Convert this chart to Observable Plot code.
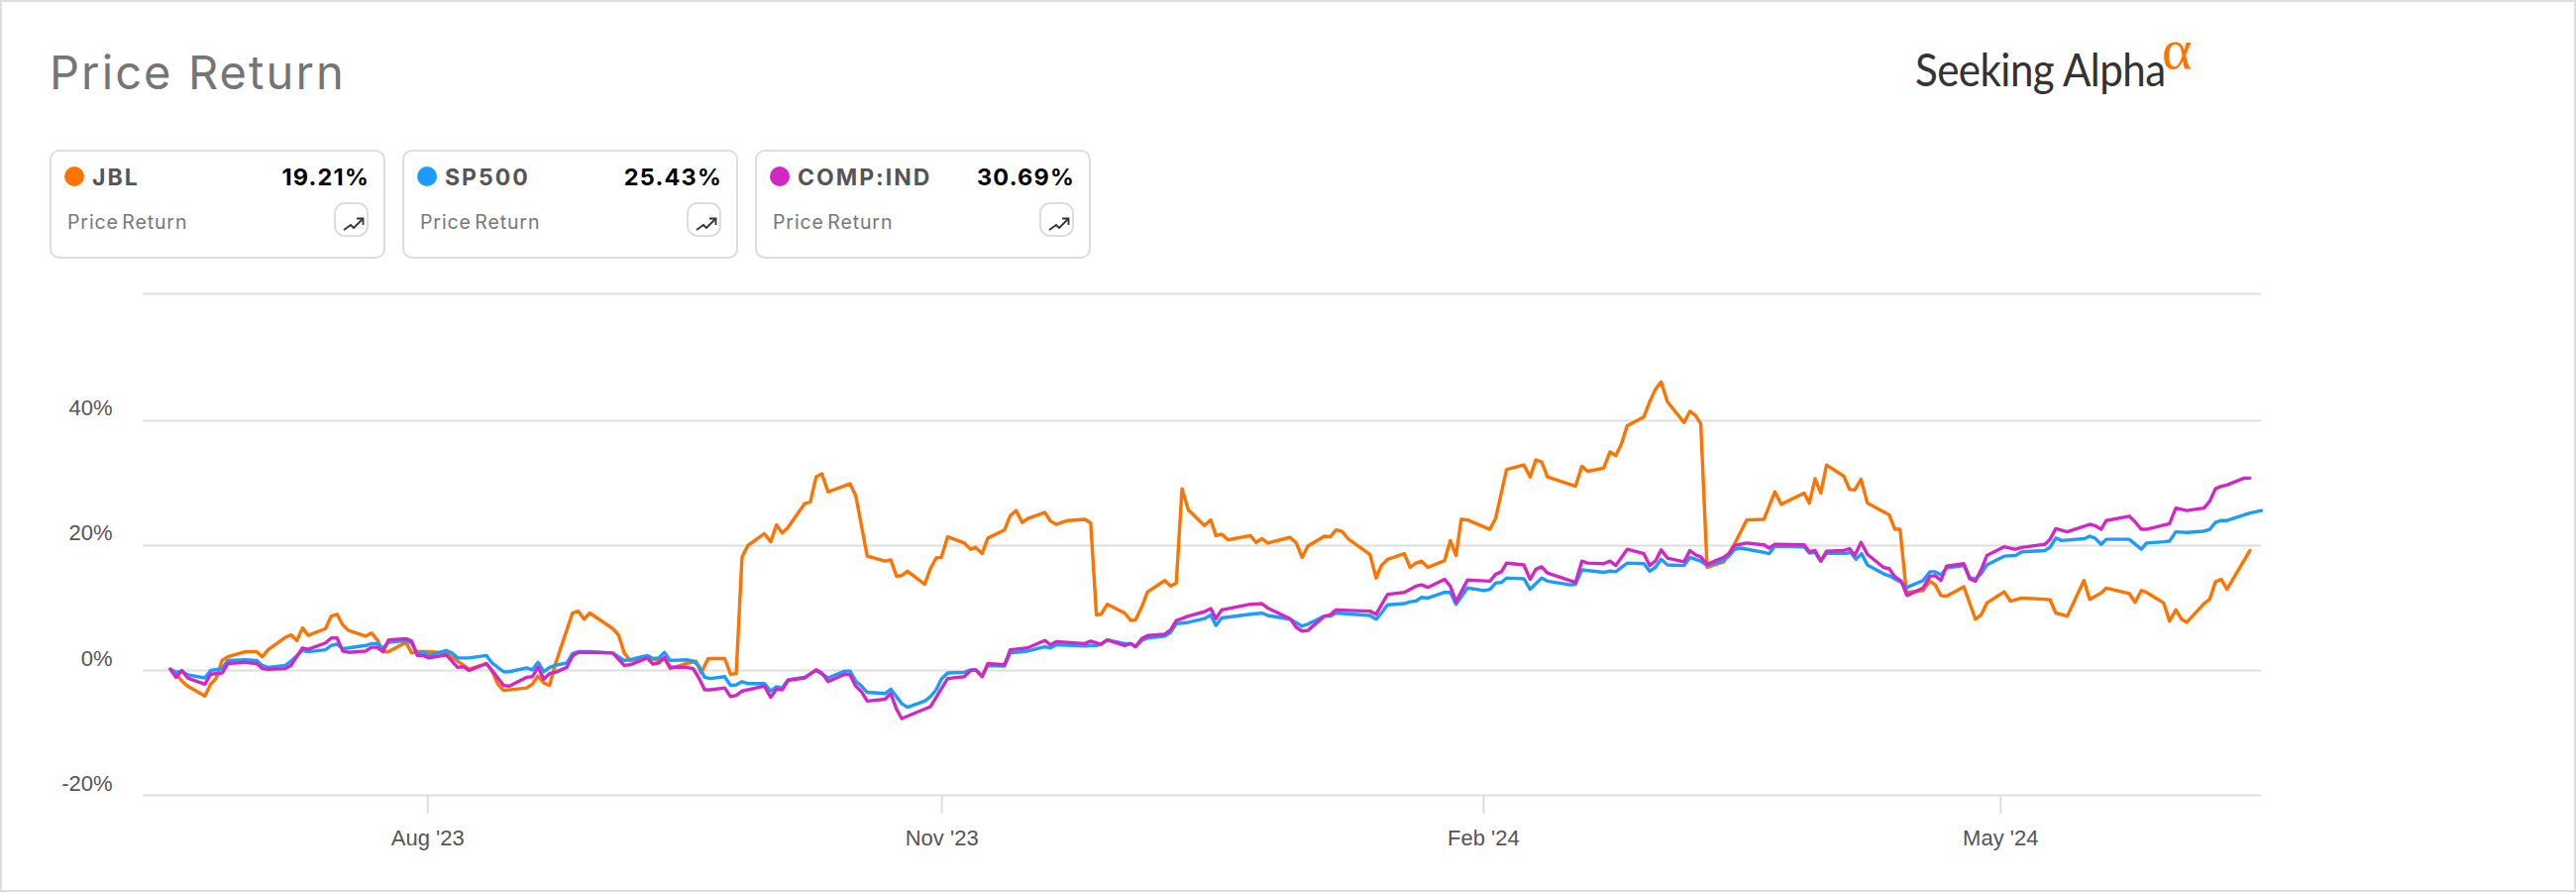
<!DOCTYPE html>
<html>
<head>
<meta charset="utf-8">
<script src="https://cdn.jsdelivr.net/npm/d3@7"></script>
<script src="https://cdn.jsdelivr.net/npm/@observablehq/plot@0.6"></script>
<style>
html,body{margin:0;padding:0;background:#fff;}
body{width:2600px;height:900px;position:relative;overflow:hidden;font-family:Inter,sans-serif;}
#frame{position:absolute;left:0;top:0;width:2600px;height:900px;box-sizing:border-box;border:2px solid #ddd;pointer-events:none;}
#chart{position:absolute;left:0;top:0;}
#chart svg{display:block;max-width:none;}
#title{position:absolute;left:50px;top:45px;font-size:47px;line-height:56px;color:#757575;letter-spacing:2.1px;font-weight:400;white-space:nowrap;}
#logo{position:absolute;left:1933px;top:44px;font-family:Lato,sans-serif;font-size:46px;line-height:52px;color:#333;letter-spacing:-0.6px;white-space:nowrap;transform:scaleX(0.915);transform-origin:left center;}
#alpha{position:absolute;left:2182px;top:20px;font-family:"Liberation Serif",serif;font-size:58px;line-height:60px;color:#ff7300;white-space:nowrap;}
.card{position:absolute;top:151px;width:339px;height:110px;box-sizing:border-box;border:2px solid #ddd;border-radius:10px;background:#fff;}
.dot{position:absolute;left:13px;top:15px;width:20px;height:20px;border-radius:50%;}
.name{position:absolute;left:41px;top:11px;font-size:23px;line-height:30px;font-weight:700;color:#555;letter-spacing:2px;white-space:nowrap;}
.val{position:absolute;right:14px;top:11px;font-size:23.5px;line-height:30px;font-weight:700;color:#000;letter-spacing:1.2px;white-space:nowrap;}
.sub{position:absolute;left:16px;top:58px;font-size:19.5px;line-height:26px;color:#777;letter-spacing:0.9px;word-spacing:-3px;white-space:nowrap;}
.btn{position:absolute;left:285px;top:51px;width:35px;height:35px;box-sizing:border-box;border:2px solid #ddd;border-radius:11px;}
.btn svg{position:absolute;left:-2px;top:-2px;}
</style>
</head>
<body>
<div id="chart"></div>
<div id="title"></div>
<div id="logo"></div>
<div id="alpha"></div>
<div id="cards"></div>
<div id="frame"></div>
<script>
const chartTitle = "Price Return";
const logoText = "Seeking Alpha";
const logoMark = "α";
const seriesNames = ["JBL", "SP500", "COMP:IND"];
const seriesTotals = ["19.21%", "25.43%", "30.69%"];
const seriesSub = "Price Return";
const seriesColors = ["#ff7300", "#1e9bff", "#d327c4"];

// Tick positions in days since the start of the window
const xTickDays = [44.8, 134.3, 228.6, 318.6];
const xTickLabels = ["Aug '23", "Nov '23", "Feb '24", "May '24"];
const yTicks = [-20, 0, 20, 40];
const yTop = 60.3;

// [day, % return]
const jbl = [[0,0.2],[1,-0.6],[2,-1.7],[3,-2.5],[6,-4.1],[7,-2.2],[8,-1.2],[9,1.6],[10,2.2],[13,3.0],[15,3.0],[16,2.2],[17,3.3],[20,5.3],[21,5.7],[22,4.8],[23,6.8],[24,5.6],[27,6.7],[28,8.7],[29,9.0],[30,7.3],[31,6.4],[34,5.5],[35,6.0],[36,4.9],[37,3.0],[38,3.0],[41,4.5],[42,2.8],[43,3.0],[45,3.0],[48,2.8],[50,1.5],[52,0.2],[55,1.1],[56,-0.1],[57,-2.2],[58,-3.2],[62,-2.8],[63,-2.2],[64,-0.9],[65,-2.0],[66,-2.4],[67,1.0],[70,9.2],[71,9.5],[72,8.2],[73,9.2],[77,6.7],[78,5.7],[79,2.8],[80,1.6],[83,2.1],[85,1.6],[86,2.0],[87,0.3],[89.5,1.0],[91.5,1.5],[92.4,-0.4],[93.6,1.9],[96.5,1.9],[97.5,-0.6],[98.5,-0.5],[99.5,18.1],[100.5,20.0],[103.4,21.9],[104.5,20.6],[105.5,23.3],[106.5,22.0],[107.5,22.9],[110.4,26.7],[111.4,27.0],[112.4,31.0],[113.4,31.5],[114.5,28.6],[118.3,29.9],[119.3,28.0],[121.3,18.3],[124.4,17.5],[125.4,17.7],[126.4,15.1],[127.3,15.2],[128.3,15.9],[131.3,13.8],[132.3,16.3],[133.3,18.0],[134.2,18.1],[135.3,21.4],[138.2,20.4],[139.3,19.4],[140.2,19.7],[141.3,18.7],[142.3,21.2],[145.2,22.5],[146.2,24.8],[147.2,25.6],[148.3,23.7],[149.2,24.3],[152.2,25.3],[153.2,23.9],[154.2,23.4],[156.2,24.0],[159.2,24.2],[160.2,23.6],[161.2,8.9],[162,9.0],[163.1,10.6],[166.1,9.2],[167.2,8.0],[168,8.1],[169.1,10.2],[170.1,12.6],[173.1,14.4],[174.1,13.5],[175.1,14.0],[176.1,29.1],[177.2,25.7],[180,23.2],[181.1,24.1],[182,21.6],[183,21.8],[184.1,20.9],[188,21.6],[189,20.5],[190,21.1],[191,20.4],[194.9,21.3],[196,20.4],[197,18.1],[198,19.9],[200.9,21.5],[201.9,21.4],[202.9,22.5],[203.9,22.3],[205,21.1],[208.8,18.6],[209.9,14.8],[210.8,16.8],[211.9,17.8],[214.8,18.7],[215.8,16.5],[216.8,17.2],[217.8,17.5],[218.9,16.5],[221.8,17.6],[222.8,20.8],[223.8,18.4],[224.7,24.2],[225.8,24.1],[229.7,22.6],[230.7,24.4],[232.6,32.2],[235.6,32.9],[236.7,31.0],[237.7,33.7],[238.7,33.4],[239.7,31.0],[244.6,29.5],[245.7,32.7],[246.7,31.9],[249.5,32.4],[250.6,35.0],[251.6,34.4],[252.6,36.3],[253.6,39.2],[256.5,40.6],[257.5,43.0],[258.5,45.0],[259.5,46.2],[260.6,43.0],[263.5,39.7],[264.5,41.5],[265.5,40.8],[266.4,39.5],[267.5,16.5],[270.4,17.4],[271.4,18.9],[272.3,20.3],[274.4,24.1],[277.4,24.2],[279.3,28.6],[280.4,26.6],[284.4,28.4],[285.3,26.8],[286.3,30.7],[287.3,28.4],[288.3,32.9],[291.3,31.1],[292.3,29.0],[293.2,28.9],[294.3,30.6],[295.4,26.8],[299.2,24.9],[300.2,22.6],[301.1,22.6],[302.2,12.5],[305.1,12.8],[306.3,14.3],[307.2,13.7],[308.2,12.0],[309.2,11.9],[312.2,13.4],[314.2,8.2],[315.2,8.9],[316.2,10.8],[319.2,12.6],[320.3,11.1],[322.3,11.6],[326.3,11.4],[327.2,11.3],[328.2,9.2],[330.2,8.7],[333.1,14.4],[334.1,11.4],[336.1,12.4],[337,13.2],[341,12.3],[342,10.9],[343.1,12.8],[344,12.5],[347,10.8],[348,7.9],[349.1,9.7],[350.1,8.2],[351,7.7],[354,10.7],[355,11.4],[356,14.2],[357,14.6],[358,13.0],[362,19.2]];

const sp500 = [[0,0.2],[1,-0.3],[2,-0.1],[3,-0.7],[6,-1.2],[7,0],[9,0.3],[10,1.6],[13,1.7],[15,1.6],[16,0.8],[17,0.5],[20,0.8],[21,1.5],[23,3.2],[24,3.0],[27,3.3],[28,4.0],[29,4.2],[30,3.5],[31,3.6],[34,4.0],[35,4.3],[36,4.3],[37,3.6],[38,4.5],[41,4.8],[42,4.4],[43,2.6],[44,3.0],[45,2.4],[48,3.2],[49,2.8],[50,2.0],[52,2.0],[55,2.4],[56,1.2],[58,-0.2],[59,-0.2],[62,0.4],[63,0.1],[64,1.3],[65,-0.2],[66,0.5],[67,0.8],[69,1.2],[70,2.7],[71,3.0],[73,3.0],[77,2.8],[79,1.6],[80,1.7],[83,2.4],[84,1.9],[85,2.0],[86,2.9],[87,1.6],[89.8,1.7],[91,1.5],[92,0.7],[93,-1.1],[94,-1.3],[96.5,-1.0],[97.5,-2.4],[98.5,-2.3],[99.5,-1.8],[100.5,-2.1],[103.4,-2.1],[104.5,-3.3],[105.5,-2.6],[106.5,-2.8],[107.5,-1.5],[110.4,-1.1],[112.4,0],[114.5,-1.2],[117.4,-0.1],[118.3,-0.1],[119.3,-1.7],[120.3,-2.5],[121.3,-3.5],[124.4,-3.7],[125.4,-3.0],[127.3,-5.3],[128.3,-5.9],[131.3,-4.9],[132.3,-4.2],[133.3,-3.1],[134.2,-1.4],[135.3,-0.4],[138.2,-0.3],[139.3,0.1],[140.2,0.1],[141.3,-0.9],[142.3,0.8],[145.2,0.7],[146.2,2.8],[149.2,3.1],[152.2,3.8],[153.2,3.6],[154.2,4.1],[159.2,3.9],[160.2,4.0],[161.2,4.0],[162,4.2],[163.1,4.9],[166.1,4.3],[167.2,4.3],[168,3.8],[169.1,4.8],[170.1,5.2],[173.1,5.5],[174.1,6.1],[175.1,7.5],[177.2,7.7],[180,8.3],[181.1,8.9],[182,7.2],[183,8.4],[188,9.0],[190,9.2],[191,8.8],[194.9,8.2],[196,7.6],[197,7.1],[198,7.4],[200.9,8.7],[201.9,8.7],[202.9,9.2],[208.8,8.8],[209.9,8.2],[210.8,9.2],[211.9,10.5],[214.8,10.7],[215.8,11.0],[216.8,11.1],[217.8,11.7],[218.9,11.6],[221.8,12.5],[222.8,12.5],[223.8,10.6],[225.8,13.2],[228.7,12.8],[229.7,13.0],[230.7,14.0],[231.7,14.1],[232.6,14.8],[235.6,14.7],[236.7,13.0],[238.7,14.8],[239.7,14.3],[243.7,13.7],[244.6,13.8],[245.7,16.1],[249.5,15.7],[250.6,15.9],[251.6,15.8],[253.6,17.2],[256.5,17.1],[257.5,15.9],[258.5,16.5],[259.5,17.8],[260.6,16.9],[263.5,16.8],[264.5,18.1],[266.4,17.5],[267.5,16.8],[270.4,17.6],[271.4,18.4],[272.3,19.4],[273.3,19.6],[277.4,18.9],[278.3,18.7],[279.3,19.9],[284.4,19.8],[285.3,18.8],[286.3,18.9],[287.3,17.5],[288.3,18.8],[291.5,18.7],[292.5,18.9],[293.4,17.8],[294.4,18.7],[295.4,16.9],[298.4,15.4],[299.4,15.1],[300.3,14.6],[301.3,14.1],[302.3,13.3],[305.1,14.4],[306.3,15.8],[307.2,15.8],[308.2,15.3],[309.2,16.4],[312.2,16.8],[313.2,14.9],[314.2,14.6],[315.2,15.5],[316.2,16.9],[319.2,18.3],[321.2,18.4],[322.3,19.0],[326.3,19.2],[327.2,19.7],[328.2,21.2],[329.2,20.8],[333.2,21.1],[334.1,21.5],[335,21.2],[336.1,20.2],[337,21.0],[341,21.0],[343.1,19.4],[344,20.4],[347,20.6],[348,20.7],[349.1,22.2],[351,22.1],[354,22.3],[355,22.6],[356,23.7],[357,24.0],[358,24.0],[362,25.2],[364,25.6]];

const compInd = [[0,0.2],[1,-1.1],[2,0],[3,-1.2],[6,-2.2],[7,-0.6],[9,-0.4],[10,1.1],[13,1.3],[15,1.1],[16,0.3],[17,0.2],[20,0.3],[21,0.8],[23,3.6],[24,3.4],[27,4.4],[28,5.2],[29,5.2],[30,3.1],[31,2.9],[34,3.1],[35,3.7],[36,3.7],[37,3.0],[38,4.9],[41,5.1],[42,4.7],[43,2.4],[44,2.4],[45,2.0],[48,2.5],[50,0.5],[51,0.6],[52,0],[55,1.1],[56,0],[58,-2.4],[59,-2.5],[62,-1.1],[63,-1.0],[64,0.5],[65,-1.4],[66,-0.5],[67,-0.3],[69,0.5],[70,2.3],[71,2.9],[73,2.9],[77,2.8],[79,0.8],[80,0.9],[83,2.0],[84,1.0],[85,1.2],[86,2.1],[87,0.5],[89.8,0.5],[91,0.3],[92,-1.2],[93,-3.1],[94,-3.1],[96.5,-2.8],[97.5,-4.2],[98.5,-4.0],[99.5,-3.3],[103.4,-2.5],[104.5,-4.3],[105.5,-3.0],[106.5,-3.1],[107.5,-1.6],[110.4,-1.2],[112.4,0.1],[113.4,-0.4],[114.5,-1.8],[117.4,-0.6],[118.3,-0.7],[119.3,-2.5],[120.3,-3.4],[121.3,-4.9],[124.4,-4.6],[125.4,-3.7],[126.4,-6.2],[127.3,-7.7],[132.3,-5.8],[133.3,-4.3],[135.3,-1.3],[138.2,-1.0],[139.3,0],[140.2,0.1],[141.3,-1.0],[142.3,1.1],[145.2,0.9],[146.2,3.3],[149.2,3.6],[152.2,4.8],[153.2,4.1],[154.2,4.6],[159.2,4.3],[160.2,4.7],[162,4.2],[163.1,4.9],[166.1,4.0],[167.2,4.3],[168,3.8],[169.1,5.1],[170.1,5.6],[173.1,5.8],[174.1,6.5],[175.1,8.0],[176.1,8.3],[177.2,8.7],[180,9.4],[181.1,9.9],[182,8.3],[183,9.7],[188,10.6],[190,10.7],[191,10.0],[194.9,8.3],[196,6.9],[197,6.3],[198,6.4],[200.9,8.7],[201.9,8.9],[202.9,9.7],[208.8,9.5],[209.9,9.0],[210.8,10.5],[211.9,12.2],[214.8,12.5],[216.8,13.5],[217.8,13.7],[218.9,13.3],[221.8,14.6],[222.8,13.5],[223.8,11.0],[225.8,14.5],[229.7,14.3],[230.7,15.4],[231.7,15.8],[232.6,17.2],[235.6,16.9],[236.7,14.6],[237.7,16.2],[238.7,16.6],[239.7,15.6],[244.6,14.1],[245.7,17.5],[246.7,17.2],[249.5,17.1],[250.6,17.5],[251.6,16.8],[253.6,19.4],[256.5,18.7],[257.5,16.8],[258.5,17.5],[259.5,19.3],[260.6,18.0],[263.5,17.4],[264.5,19.2],[265.5,18.5],[266.4,18.2],[267.5,17.0],[270.4,18.1],[271.4,18.8],[272.3,20.0],[274.4,20.4],[277.4,20.1],[278.3,19.6],[279.3,20.2],[284.4,20.1],[285.3,19.0],[286.3,19.2],[287.3,17.5],[288.3,19.1],[291.3,19.2],[292.3,19.5],[293.2,18.4],[294.3,20.5],[295.4,18.6],[298.2,16.5],[299.2,16.3],[300.2,15.0],[301.3,14.3],[302.3,12.0],[305.1,13.2],[306.3,15.1],[307.2,15.2],[308.2,14.4],[309.2,16.7],[312.2,17.1],[313.2,14.7],[314.2,14.3],[315.2,16.1],[316.2,18.4],[319.2,19.8],[321.2,19.4],[322.3,19.7],[326.3,20.2],[327.2,21.0],[328.2,22.7],[330.2,22.2],[334.1,23.4],[335,23.2],[336.1,22.6],[337,24.0],[341,24.7],[342,23.8],[343.1,22.6],[344,22.6],[348,23.5],[349.1,26.0],[351,25.6],[354,26.0],[355,27.1],[356,29.1],[357,29.5],[358,29.7],[361,30.8],[362,30.8]];

const grey = "#dedede", textGrey = "#555";
const lineOf = (pts, color) => Plot.line(pts, {x: d => d[0], y: d => d[1], stroke: color, strokeWidth: 3.4, strokeLinejoin: "round", strokeLinecap: "round"});
const labelAt = new Map(xTickDays.map((d, i) => [d, xTickLabels[i]]));

const plot = Plot.plot({
  width: 2600, height: 900,
  marginLeft: 144, marginRight: 318, marginTop: 296, marginBottom: 98,
  style: {fontFamily: '"Liberation Sans", sans-serif', background: "transparent"},
  x: {domain: [-4.74, 364], axis: null},
  y: {domain: [-20, yTop], axis: null},
  marks: [
    Plot.ruleY([...yTicks, yTop], {stroke: grey, strokeWidth: 2}),
    Plot.axisX(xTickDays, {anchor: "bottom", tickSize: 19, tickPadding: 16, stroke: grey, strokeWidth: 2, strokeOpacity: 1, fill: textGrey, fontSize: 22, tickFormat: d => labelAt.get(d), label: null}),
    Plot.axisY(yTicks, {anchor: "left", tickSize: 0, tickPadding: 31, fill: textGrey, fontSize: 22, dy: -12, tickFormat: d => d + "%", label: null}),
    lineOf(jbl, seriesColors[0]),
    lineOf(sp500, seriesColors[1]),
    lineOf(compInd, seriesColors[2])
  ]
});
document.getElementById("chart").appendChild(plot);

document.getElementById("title").textContent = chartTitle;
document.getElementById("logo").textContent = logoText;
document.getElementById("alpha").textContent = logoMark;

const icon = '<svg width="35" height="35" viewBox="0 0 35 35" fill="none" stroke="#333" stroke-width="1.8"><path d="M10 28l7-5 3 3 9-9"/><path d="M23 16.5h6.5v6.5"/></svg>';
const cardLeft = [50, 406, 762];
const cards = document.getElementById("cards");
seriesNames.forEach((name, i) => {
  const c = document.createElement("div");
  c.className = "card";
  c.style.left = cardLeft[i] + "px";
  c.innerHTML = `<div class="dot" style="background:${seriesColors[i]}"></div><div class="name">${name}</div><div class="val">${seriesTotals[i]}</div><div class="sub">${seriesSub}</div><div class="btn">${icon}</div>`;
  cards.appendChild(c);
});
</script>
</body>
</html>
